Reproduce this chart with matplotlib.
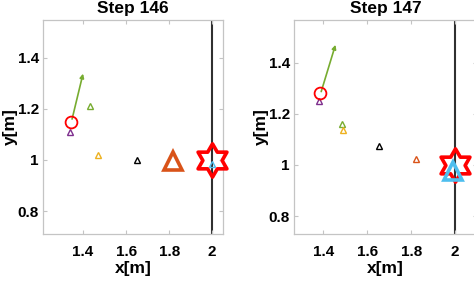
import matplotlib
matplotlib.use("Agg")
import numpy as np
import matplotlib.pyplot as plt
from matplotlib.path import Path
from matplotlib.ticker import FuncFormatter

plt.rcParams['font.family'] = ['Liberation Sans', 'DejaVu Sans']
plt.rcParams['font.weight'] = 'bold'

# MATLAB default colours
purple = (0.494, 0.184, 0.556)
green = (0.466, 0.674, 0.188)
yellow = (0.929, 0.694, 0.125)
orange = (0.85, 0.325, 0.098)
blue = (0.301, 0.745, 0.933)

steps = ["Step 146", "Step 147"]

# per step: robot position, heading arrow, other agents
robot_xy = [(1.344, 1.147), (1.385, 1.28)]
arrow_start = [(1.349, 1.16), (1.39, 1.287)]
arrow_end = [(1.40, 1.338), (1.455, 1.47)]
purple_xy = [(1.34, 1.108), (1.38, 1.25)]
green_xy = [(1.43, 1.213), (1.485, 1.16)]
yellow_xy = [(1.47, 1.02), (1.49, 1.135)]
black_xy = [(1.65, 1.0), (1.655, 1.073)]
orange_xy = [(1.82, 0.995), (1.82, 1.025)]
blue_xy = [(2.0, 0.985), (1.99, 0.975)]
goal_xy = [(2.0, 1.0), (2.0, 1.0)]
big_agent = ["orange", "blue"]

xlims = [(1.214, 2.05), (1.266, 2.10)]
ylims = [(0.71, 1.548), (0.73, 1.567)]
xticks = [1.4, 1.6, 1.8, 2.0]
yticks = [0.8, 1.0, 1.2, 1.4]

# hexagram marker like MATLAB's 'h'
ang = np.pi / 2 + np.arange(12) * np.pi / 6
rad = np.where(np.arange(12) % 2 == 0, 1.0, 1 / np.sqrt(3))
verts = np.column_stack([rad * np.cos(ang), rad * np.sin(ang)])
verts = np.vstack([verts, verts[:1]])
hexagram = Path(verts, closed=True)

fig = plt.figure(figsize=(4.74, 2.81), dpi=100)
W, H = 474, 281
boxes = [(43, 20, 180, 214), (294, 20, 183, 214)]

fmt = FuncFormatter(lambda v, p: "%g" % v)
gray = "#c4c4c4"

for i in range(2):
    l, t, w, h = boxes[i]
    ax = fig.add_axes([l / W, (H - t - h) / H, w / W, h / H])
    ax.set_xlim(xlims[i])
    ax.set_ylim(ylims[i])
    ax.set_xticks(xticks)
    ax.set_yticks(yticks)
    ax.xaxis.set_major_formatter(fmt)
    ax.yaxis.set_major_formatter(fmt)
    ax.tick_params(direction='in', length=3, color=gray, labelsize=11,
                   top=True, right=True)
    ax.tick_params(axis='x', pad=8)
    ax.tick_params(axis='y', pad=3)
    for s in ax.spines.values():
        s.set_color(gray)
        s.set_linewidth(0.9)
    ax.set_title(steps[i], fontsize=12.5, fontweight='bold', pad=5)
    ax.set_xlabel("x[m]", fontsize=12.5, fontweight='bold', labelpad=1)
    ax.set_ylabel("y[m]", fontsize=12.5, fontweight='bold', labelpad=0)

    ax.axvline(2.0, color="#303030", lw=1.5, zorder=1)

    ax.annotate("", xy=arrow_end[i], xytext=arrow_start[i],
                arrowprops=dict(arrowstyle="-|>", color=green, lw=1.2,
                                mutation_scale=6, shrinkA=0, shrinkB=0))

    small = dict(marker='^', ms=5, mfc='none', mew=1.0, ls='none')
    big = dict(marker='^', ms=13, mfc='none', mew=2.6, ls='none')

    ax.plot(*purple_xy[i], color=purple, **small)
    ax.plot(*green_xy[i], color=green, **small)
    ax.plot(*yellow_xy[i], color=yellow, **small)
    ax.plot(*black_xy[i], color='black', **small)

    ax.plot(*goal_xy[i], marker=hexagram, ms=24, mfc='none', mec='red',
            mew=2.6, ls='none', zorder=3, clip_on=False)

    if big_agent[i] == "orange":
        ax.plot(*orange_xy[i], color=orange, **big)
        ax.plot(*blue_xy[i], color=blue, zorder=4, **small)
    else:
        ax.plot(*orange_xy[i], color=orange, **small)
        ax.plot(*blue_xy[i], color=blue, zorder=4, **big)

    ax.plot(*robot_xy[i], marker='o', ms=8.5, mfc='none', mec='red', mew=1.3,
            ls='none', zorder=5)

fig.savefig("out.png", dpi=100)
